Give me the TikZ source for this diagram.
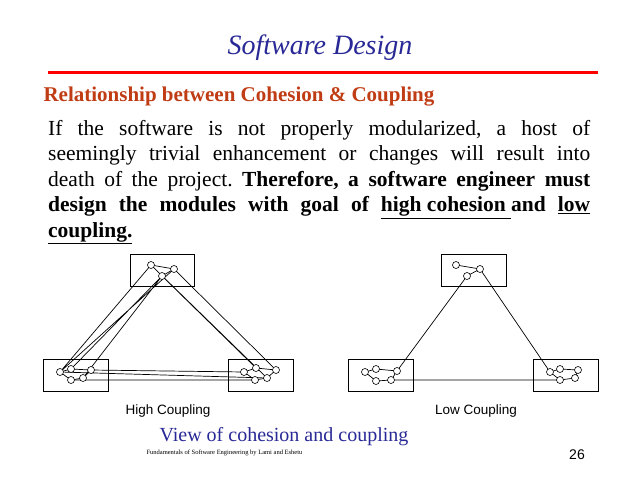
\documentclass[tikz,border=0pt]{standalone}
\usepackage{fontspec}
\setmainfont{Liberation Serif}
\setsansfont{Liberation Sans}
\definecolor{navy}{RGB}{40,40,150}
\definecolor{sub}{RGB}{192,60,20}
\begin{document}
\frenchspacing
\begin{tikzpicture}[x=1pt,y=-1pt,
  mod/.style={draw,line width=0.7pt},
  dot/.style={circle,draw,fill=white,inner sep=0pt,minimum size=7pt,line width=0.6pt},
  lnk/.style={line width=0.7pt}]
\useasboundingbox (0,0) rectangle (638,493);
\node[font=\itshape\fontsize{28}{30}\selectfont,text=navy] (title) at (320,48) {Software Design};
\draw[red,line width=3pt] (48,72) -- (598,72);
\node[anchor=west,font=\bfseries\fontsize{21}{22}\selectfont,text=sub] (subt) at (40,97) {Relationship between Cohesion \& Coupling};
\node[anchor=north west,text width=542pt,align=justify,inner sep=0pt,font=\fontsize{21.5}{25.5}\selectfont] (para) at (48,120)
{If the software is not properly modularized, a host of\linebreak seemingly trivial enhancement or changes will result into\linebreak death of the project. \textbf{Therefore, a software engineer must\linebreak design the modules with goal of \underline{high cohesion\ }and \underline{low}\linebreak \underline{coupling.}}};
% High coupling
\node[mod,minimum width=64pt,minimum height=32pt] (ht) at (162,270) {};
\node[mod,minimum width=65pt,minimum height=32pt] (hl) at (75.5,375) {};
\node[mod,minimum width=65pt,minimum height=32pt] (hr) at (260.5,375) {};
\coordinate (t1) at (151,265); \coordinate (t2) at (174,269); \coordinate (t3) at (162,276);
\coordinate (l1) at (60,372); \coordinate (l2) at (71,369); \coordinate (l3) at (91,370); \coordinate (l4) at (71,380); \coordinate (l5) at (83,378);
\coordinate (r1) at (244,372); \coordinate (r2) at (256,368); \coordinate (r3) at (276,370); \coordinate (r4) at (267,378); \coordinate (r5) at (255,380);
\draw[lnk] (t1)--(t2) (t2)--(t3);
\draw[lnk] (l1)--(l2)--(l3) (l1)--(l4)--(l5)--(l3);
\draw[lnk] (r1)--(r2)--(r3) (r1)--(r5)--(r4)--(r3);
\draw[lnk] (t1)--(l1) (t3)--(l2) (t3)--(l5) (t2)--(l1);
\draw[lnk] (t1)--(r4) (t3)--(r2) (t2)--(r3) (t3)--(r4);
\draw[lnk] (l3)--(r1) (l4)--(r5) (l1)--(r4);
\foreach \p in {t1,t2,t3,l1,l2,l3,l4,l5,r1,r2,r3,r4,r5} \node[dot] (n\p) at (\p) {};
\node[font=\sffamily\fontsize{13.5}{14}\selectfont] (hc) at (168,411) {High Coupling};
% Low coupling
\node[mod,minimum width=65pt,minimum height=32pt] (lt) at (473.5,270) {};
\node[mod,minimum width=65pt,minimum height=32pt] (ll) at (380.5,375) {};
\node[mod,minimum width=65pt,minimum height=32pt] (lr) at (565.5,375) {};
\coordinate (u1) at (456,265); \coordinate (u2) at (480,269); \coordinate (u3) at (467,276);
\coordinate (a1) at (365,372); \coordinate (a2) at (376,369); \coordinate (a3) at (397,371); \coordinate (a4) at (376,381); \coordinate (a5) at (391,380);
\coordinate (b1) at (550,372); \coordinate (b2) at (560,369); \coordinate (b3) at (578,370); \coordinate (b4) at (560,380); \coordinate (b5) at (575,378);
\draw[lnk] (u1)--(u2)--(u3);
\draw[lnk] (a1)--(a2)--(a3)--(a5)--(a4)--(a1);
\draw[lnk] (b1)--(b2)--(b3)--(b5)--(b4)--(b1);
\draw[lnk] (u3)--(a3) (u2)--(b1) (a5)--(b4);
\foreach \p in {u1,u2,u3,a1,a2,a3,a4,a5,b1,b2,b3,b4,b5} \node[dot] (n\p) at (\p) {};
\node[font=\sffamily\fontsize{13.5}{14}\selectfont] (lc) at (476,411) {Low Coupling};
% footer
\node[font=\fontsize{20}{22}\selectfont,text=navy] (cap) at (284,437) {View of cohesion and coupling};
\node[anchor=west,font=\fontsize{6.5}{7}\selectfont] (foot) at (143,453) {Fundamentals of Software Engineering by Lami and Eshetu};
\node[font=\sffamily\fontsize{14}{15}\selectfont] (pg) at (577,455) {26};
\end{tikzpicture}
\end{document}
